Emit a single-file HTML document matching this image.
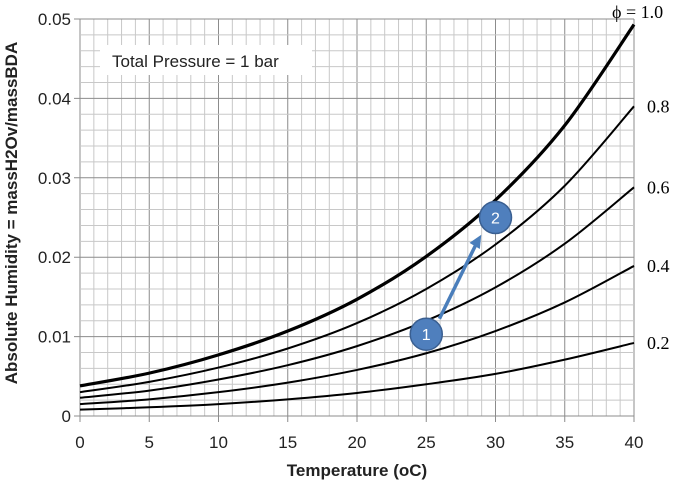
<!DOCTYPE html>
<html><head><meta charset="utf-8"><style>
body{margin:0;background:#fff}
svg text{font-family:"Liberation Sans",sans-serif}
</style></head><body>
<svg id="chart" width="685" height="482" xmlns="http://www.w3.org/2000/svg"></svg>
<script>
const temps=[0,5,10,15,20,25,30,35,40];
const phiLabels=["ϕ = 1.0","0.8","0.6","0.4","0.2"];
const phi10=[0.0038,0.0054,0.0077,0.0107,0.0147,0.0201,0.0272,0.0366,0.0493];
const phi08=[0.0030,0.0043,0.0061,0.0085,0.0117,0.0160,0.0216,0.0290,0.0390];
const phi06=[0.0023,0.0032,0.0046,0.0064,0.0088,0.0120,0.0162,0.0217,0.0288];
const phi04=[0.0015,0.0021,0.0030,0.0042,0.0058,0.0079,0.0107,0.0143,0.0189];
const phi02=[0.0008,0.0011,0.0015,0.0021,0.0029,0.0040,0.0053,0.0071,0.0092];
const xTicks=[0,5,10,15,20,25,30,35,40];
const yTicks=[0,0.01,0.02,0.03,0.04,0.05];
const yTickLabels=["0","0.01","0.02","0.03","0.04","0.05"];
const point1=[25,0.0103];
const point2=[30,0.0250];

const X0=80,X1=634,Y0=416,Y1=19;
const xs=t=>X0+(t-0)/40*(X1-X0);
const ys=v=>Y0-v/0.05*(Y0-Y1);
const svg=document.getElementById('chart');
const NS="http://www.w3.org/2000/svg";
function mk(tag,attrs,parent){const e=document.createElementNS(NS,tag);for(const k in attrs)e.setAttribute(k,attrs[k]);(parent||svg).appendChild(e);return e;}

const grid=mk('g',{});


for(let t=0;t<=40;t++){
  const major=t%5===0;
  const l=mk('line',{x1:xs(t),x2:xs(t),y1:Y1,y2:Y0+(major?6:0),stroke:major?'#8c8c8c':'#c8c8c8','stroke-width':1},grid);
  
  
}
for(let i=0;i<=25;i++){
  const v=i*0.002,major=i%5===0;
  const l=mk('line',{x1:X0-(major?6:0),x2:X1,y1:ys(v),y2:ys(v),stroke:major?'#8c8c8c':'#c8c8c8','stroke-width':1},grid);
  
  
}
xTicks.forEach(t=>{
  const e=mk('text',{x:xs(t),y:448,'text-anchor':'middle','font-size':17,fill:'#222'});e.textContent=t;
  
  
});
yTicks.forEach((v,i)=>{
  const e=mk('text',{x:71,y:ys(v)+6,'text-anchor':'end','font-size':17,fill:'#222'});e.textContent=yTickLabels[i];
  
  
});

const box=mk('rect',{x:100,y:45,width:212,height:30,fill:'#fff'});


const note=mk('text',{x:112,y:67,'font-size':17,fill:'#222'});note.textContent='Total Pressure = 1 bar';



function pathFor(vals){
  const p=vals.map((v,i)=>[xs(temps[i]),ys(v)]);
  let d='M'+p[0][0]+','+p[0][1];
  for(let i=0;i<p.length-1;i++){
    const a=p[i-1]||p[i],b=p[i],c=p[i+1],e=p[i+2]||c;
    d+=' C'+(b[0]+(c[0]-a[0])/6)+','+(b[1]+(c[1]-a[1])/6)+' '+(c[0]-(e[0]-b[0])/6)+','+(c[1]-(e[1]-b[1])/6)+' '+c[0]+','+c[1];
  }
  return d;
}
const series=[phi10,phi08,phi06,phi04,phi02];
const names=['curve-phi-1.0','curve-phi-0.8','curve-phi-0.6','curve-phi-0.4','curve-phi-0.2'];
series.forEach((s,i)=>{
  const p=mk('path',{d:pathFor(s),fill:'none',stroke:'#000','stroke-width':i===0?3.2:2});
  
  
  const last=s[s.length-1];
  const t=mk('text',{x:i===0?612:647,y:i===0?18:ys(last)+6,'font-size':18,fill:'#000'});
  t.setAttribute('style','font-family:"Liberation Serif",serif');
  t.textContent=phiLabels[i];
  
  
});

const p1x=xs(point1[0]),p1y=ys(point1[1]),p2x=xs(point2[0]),p2y=ys(point2[1]);
const ang=Math.atan2(p2y-p1y,p2x-p1x);
const sx=p1x+18*Math.cos(ang)+4,sy=p1y+18*Math.sin(ang),ex=p2x-20*Math.cos(ang)-4,ey=p2y-20*Math.sin(ang);
const arrow=mk('line',{x1:sx,y1:sy,x2:ex-6*Math.cos(ang),y2:ey-6*Math.sin(ang),stroke:'#4a7ebb','stroke-width':3.5});


const hd=mk('polygon',{points:`${ex},${ey} ${ex-13*Math.cos(ang)+6*Math.sin(ang)},${ey-13*Math.sin(ang)-6*Math.cos(ang)} ${ex-13*Math.cos(ang)-6*Math.sin(ang)},${ey-13*Math.sin(ang)+6*Math.cos(ang)}`,fill:'#4a7ebb'});


[[p1x,p1y,'1'],[p2x,p2y,'2']].forEach(([x,y,l])=>{
  const c=mk('circle',{cx:x,cy:y,r:16,fill:'#4f7fbd',stroke:'#3a5f91','stroke-width':1.5});
  
  
  const t=mk('text',{x:x,y:y+6,'text-anchor':'middle','font-size':16,fill:'#fff'});t.textContent=l;
  
  
});

const xt=mk('text',{x:357,y:476,'text-anchor':'middle','font-size':17,'font-weight':'bold',fill:'#222'});xt.textContent='Temperature (oC)';


const yt=mk('text',{x:0,y:0,'text-anchor':'middle','font-size':17,'font-weight':'bold',fill:'#222',transform:'translate(17,213) rotate(-90)'});yt.textContent='Absolute Humidity = massH2Ov/massBDA';


</script>
</body></html>
